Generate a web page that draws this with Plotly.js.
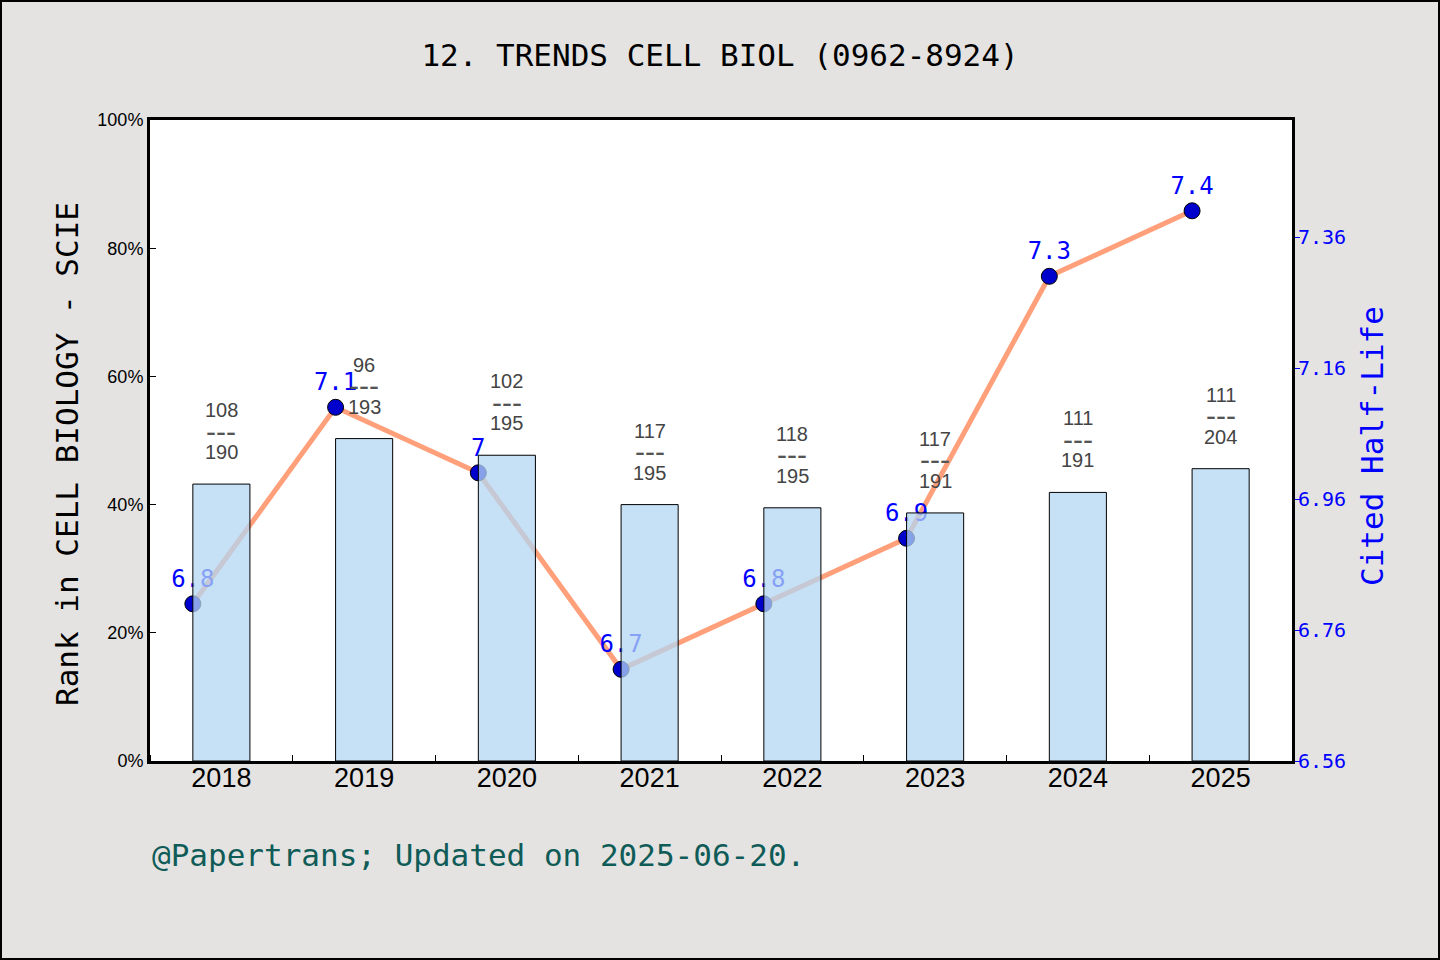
<!DOCTYPE html>
<html>
<head>
<meta charset="utf-8">
<script src="https://cdn.plot.ly/plotly-3.0.1.min.js"></script>
<style>
  html, body { margin: 0; padding: 0; background: #e4e3e1; }
  #wrap { width: 1440px; height: 960px; box-sizing: border-box; border: 2px solid #000; background: #e4e3e1; }
  #chart { width: 1436px; height: 956px; }
</style>
</head>
<body>
<div id="wrap"><div id="chart"></div></div>
<script>
// ---- data ----
const years = [2018, 2019, 2020, 2021, 2022, 2023, 2024, 2025];
const rankPercent = [43.2, 50.3, 47.7, 40.0, 39.5, 38.7, 41.9, 45.6];
const rankInCategory = [108, 96, 102, 117, 118, 117, 111, 111];
const categoryTotal = [190, 193, 195, 195, 195, 191, 191, 204];
const halfLife = [6.8, 7.1, 7.0, 6.7, 6.8, 6.9, 7.3, 7.4];
const halfLifeLabels = ['6.8', '7.1', '7', '6.7', '6.8', '6.9', '7.3', '7.4'];
const leftTicks = [0, 20, 40, 60, 80, 100];
const rightTicks = [6.56, 6.76, 6.96, 7.16, 7.36];

// ---- style ----
const barWidth = 0.4;
const lineShift = -barWidth / 2;
const mono = '"DejaVu Sans Mono", "Liberation Mono", monospace';
const sans = '"Liberation Sans", Arial, sans-serif';

const lineTrace = {
  type: 'scatter',
  mode: 'lines+markers+text',
  x: years.map(y => y + lineShift),
  y: halfLife,
  yaxis: 'y',
  text: halfLifeLabels,
  textposition: 'top center',
  textfont: { family: mono, size: 24, color: '#0000ff' },
  line: { color: '#ffa07a', width: 5 },
  marker: { size: 16, color: '#0000cd', line: { color: '#000', width: 1 } },
  cliponaxis: false,
  hoverinfo: 'skip'
};

const barTrace = {
  type: 'bar',
  x: years,
  y: rankPercent,
  yaxis: 'y2',
  width: barWidth,
  marker: { color: 'rgba(179,213,243,0.75)', line: { color: '#000', width: 1 } },
  hoverinfo: 'skip'
};

const annotations = [];
years.forEach((yr, i) => {
  annotations.push({ x: yr, y: rankPercent[i], xref: 'x', yref: 'y2', text: String(rankInCategory[i]),
    showarrow: false, yanchor: 'middle', yshift: 74, font: { family: sans, size: 20, color: '#444' } });
  annotations.push({ x: yr, y: rankPercent[i], xref: 'x', yref: 'y2', text: '---',
    showarrow: false, yanchor: 'middle', yshift: 53, font: { family: sans, size: 30, color: '#555' } });
  annotations.push({ x: yr, y: rankPercent[i], xref: 'x', yref: 'y2', text: String(categoryTotal[i]),
    showarrow: false, yanchor: 'middle', yshift: 32, font: { family: sans, size: 20, color: '#444' } });
});
annotations.push({ xref: 'paper', yref: 'paper', x: 0, y: 0.479, xshift: -83, textangle: -90,
  text: 'Rank in CELL BIOLOGY - SCIE', showarrow: false, xanchor: 'center', yanchor: 'middle',
  font: { family: mono, size: 31, color: '#000' } });
annotations.push({ xref: 'paper', yref: 'paper', x: 1, y: 0.4914, xshift: 80, textangle: -90,
  text: 'Cited Half-Life', showarrow: false, xanchor: 'center', yanchor: 'middle',
  font: { family: mono, size: 31, color: '#0000ff' } });
annotations.push({ xref: 'paper', yref: 'paper', x: 0, y: -0.1466, xanchor: 'left', yanchor: 'middle',
  text: '@Papertrans; Updated on 2025-06-20.', showarrow: false,
  font: { family: mono, size: 31, color: '#0f5b57' } });

const layout = {
  width: 1436, height: 956,
  margin: { l: 148, r: 146, t: 118, b: 197, pad: 0 },
  paper_bgcolor: '#e4e3e1',
  plot_bgcolor: '#ffffff',
  showlegend: false,
  title: { text: '12. TRENDS CELL BIOL (0962-8924)', xref: 'container', x: 0.5, xanchor: 'center',
    yref: 'container', y: 1 - 53 / 956, yanchor: 'middle', font: { family: mono, size: 31, color: '#000' } },
  xaxis: {
    range: [2017.5, 2025.5], tickvals: years, ticktext: years.map(String), ticks: '',
    tickfont: { family: sans, size: 27, color: '#000' }, ticklabelstandoff: -9,
    showline: true, linecolor: '#000', linewidth: 3, mirror: true,
    showgrid: false, zeroline: false,
    minor: { tick0: 2017.5, dtick: 1, ticks: 'inside', ticklen: 6, tickwidth: 1, tickcolor: '#000', showgrid: false }
  },
  yaxis: {
    side: 'right', range: [6.56, 6.56 + 641 / 655], tickvals: rightTicks, ticktext: rightTicks.map(v => v.toFixed(2)),
    ticks: 'outside', ticklen: 5, tickcolor: '#0000ff', tickwidth: 1,
    tickfont: { family: mono, size: 20, color: '#0000ff' }, ticklabelstandoff: -6,
    showline: true, linecolor: '#000', linewidth: 3,
    showgrid: false, zeroline: false
  },
  yaxis2: {
    overlaying: 'y', side: 'left', range: [0, 100], tickvals: leftTicks, ticktext: leftTicks.map(v => v + '%'),
    ticks: 'inside', ticklen: 6, tickcolor: '#000', tickwidth: 1,
    tickfont: { family: sans, size: 18, color: '#000' },
    showline: true, linecolor: '#000', linewidth: 3,
    showgrid: false, zeroline: false
  },
  annotations: annotations
};

Plotly.newPlot('chart', [lineTrace, barTrace], layout, { displayModeBar: false, staticPlot: true });
</script>
</body>
</html>
